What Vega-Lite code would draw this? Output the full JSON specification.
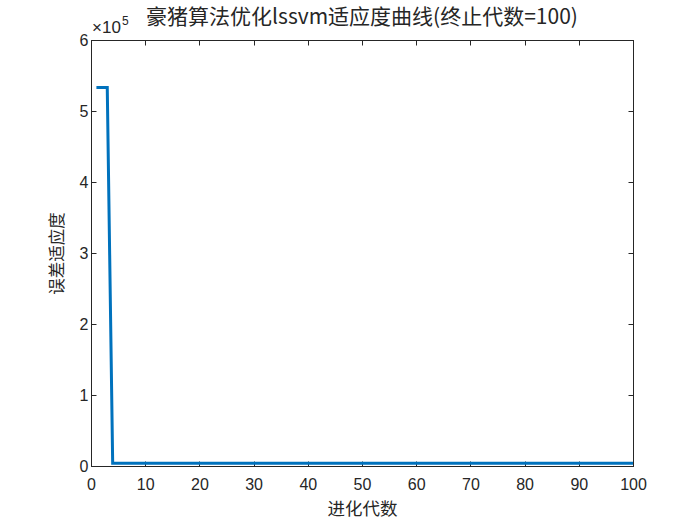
{
  "$schema": "https://vega.github.io/schema/vega-lite/v6.json",
  "autosize": "none",
  "width": 542,
  "height": 426,
  "padding": {"left": 91, "top": 40, "right": 67, "bottom": 59},
  "background": "white",
  "title": {
    "text": "豪猪算法优化lssvm适应度曲线(终止代数=100)",
    "font": "Noto Sans CJK SC",
    "fontSize": 21,
    "fontWeight": "normal",
    "color": "#262626",
    "anchor": "middle",
    "offset": -13
  },
  "config": {
    "view": {"stroke": "#262626", "strokeWidth": 1},
    "axis": {
      "grid": false,
      "domainColor": "#262626",
      "tickColor": "#262626",
      "tickSize": -5,
      "labelColor": "#262626",
      "labelFont": "Liberation Sans",
      "labelFontSize": 16,
      "labelFlush": false,
      "titleFont": "Noto Sans CJK SC",
      "titleFontWeight": "normal",
      "titleColor": "#262626"
    }
  },
  "data": {"values": [
    {"g":1,"f":533000},{"g":2,"f":533000},{"g":3,"f":533000},{"g":4,"f":3800},{"g":5,"f":3800},
    {"g":6,"f":3800},{"g":7,"f":3800},{"g":8,"f":3800},{"g":9,"f":3800},{"g":10,"f":3800},
    {"g":11,"f":3800},{"g":12,"f":3800},{"g":13,"f":3800},{"g":14,"f":3800},{"g":15,"f":3800},
    {"g":16,"f":3800},{"g":17,"f":3800},{"g":18,"f":3800},{"g":19,"f":3800},{"g":20,"f":3800},
    {"g":21,"f":3800},{"g":22,"f":3800},{"g":23,"f":3800},{"g":24,"f":3800},{"g":25,"f":3800},
    {"g":26,"f":3800},{"g":27,"f":3800},{"g":28,"f":3800},{"g":29,"f":3800},{"g":30,"f":3800},
    {"g":31,"f":3800},{"g":32,"f":3800},{"g":33,"f":3800},{"g":34,"f":3800},{"g":35,"f":3800},
    {"g":36,"f":3800},{"g":37,"f":3800},{"g":38,"f":3800},{"g":39,"f":3800},{"g":40,"f":3800},
    {"g":41,"f":3800},{"g":42,"f":3800},{"g":43,"f":3800},{"g":44,"f":3800},{"g":45,"f":3800},
    {"g":46,"f":3800},{"g":47,"f":3800},{"g":48,"f":3800},{"g":49,"f":3800},{"g":50,"f":3800},
    {"g":51,"f":3800},{"g":52,"f":3800},{"g":53,"f":3800},{"g":54,"f":3800},{"g":55,"f":3800},
    {"g":56,"f":3800},{"g":57,"f":3800},{"g":58,"f":3800},{"g":59,"f":3800},{"g":60,"f":3800},
    {"g":61,"f":3800},{"g":62,"f":3800},{"g":63,"f":3800},{"g":64,"f":3800},{"g":65,"f":3800},
    {"g":66,"f":3800},{"g":67,"f":3800},{"g":68,"f":3800},{"g":69,"f":3800},{"g":70,"f":3800},
    {"g":71,"f":3800},{"g":72,"f":3800},{"g":73,"f":3800},{"g":74,"f":3800},{"g":75,"f":3800},
    {"g":76,"f":3800},{"g":77,"f":3800},{"g":78,"f":3800},{"g":79,"f":3800},{"g":80,"f":3800},
    {"g":81,"f":3800},{"g":82,"f":3800},{"g":83,"f":3800},{"g":84,"f":3800},{"g":85,"f":3800},
    {"g":86,"f":3800},{"g":87,"f":3800},{"g":88,"f":3800},{"g":89,"f":3800},{"g":90,"f":3800},
    {"g":91,"f":3800},{"g":92,"f":3800},{"g":93,"f":3800},{"g":94,"f":3800},{"g":95,"f":3800},
    {"g":96,"f":3800},{"g":97,"f":3800},{"g":98,"f":3800},{"g":99,"f":3800},{"g":100,"f":3800}
  ]},
  "layer": [
    {
      "mark": {"type": "line", "color": "#0072BD", "strokeWidth": 3, "clip": true},
      "encoding": {
        "x": {"field": "g", "type": "quantitative", "scale": {"domain": [0, 100], "nice": false, "zero": false},
              "axis": {"orient": "bottom", "title": "进化代数", "titleFontSize": 17.5, "values": [0,10,20,30,40,50,60,70,80,90,100], "labelPadding": 15, "titlePadding": 8}},
        "y": {"field": "f", "type": "quantitative", "scale": {"domain": [0, 600000], "nice": false},
              "axis": {"orient": "left", "title": "误差适应度", "titleFontSize": 16.5, "values": [0,100000,200000,300000,400000,500000,600000], "labelExpr": "datum.value/100000", "labelPadding": 8, "titlePadding": 14}}
      }
    },
    {
      "mark": {"type": "line", "opacity": 0},
      "encoding": {
        "x": {"field": "g", "type": "quantitative", "scale": {"domain": [0, 100], "nice": false, "zero": false},
              "axis": {"orient": "top", "title": null, "labels": false, "values": [0,10,20,30,40,50,60,70,80,90,100]}},
        "y": {"field": "f", "type": "quantitative", "scale": {"domain": [0, 600000], "nice": false},
              "axis": {"orient": "right", "title": null, "labels": false, "values": [0,100000,200000,300000,400000,500000,600000]}}
      }
    },
    {
      "data": {"values": [{"g": 0, "f": 600000, "t": "×10"}]},
      "mark": {"type": "text", "align": "left", "baseline": "bottom", "dy": -3, "dx": 1, "font": "Liberation Sans", "fontSize": 17, "color": "#262626"},
      "encoding": {
        "x": {"field": "g", "type": "quantitative", "axis": null},
        "y": {"field": "f", "type": "quantitative", "axis": null},
        "text": {"field": "t"}
      }
    },
    {
      "data": {"values": [{"g": 0, "f": 600000, "t": "5"}]},
      "mark": {"type": "text", "align": "left", "baseline": "bottom", "dy": -12, "dx": 31, "font": "Liberation Sans", "fontSize": 12, "color": "#262626"},
      "encoding": {
        "x": {"field": "g", "type": "quantitative", "axis": null},
        "y": {"field": "f", "type": "quantitative", "axis": null},
        "text": {"field": "t"}
      }
    }
  ],
  "resolve": {"axis": {"x": "independent", "y": "independent"}}
}
